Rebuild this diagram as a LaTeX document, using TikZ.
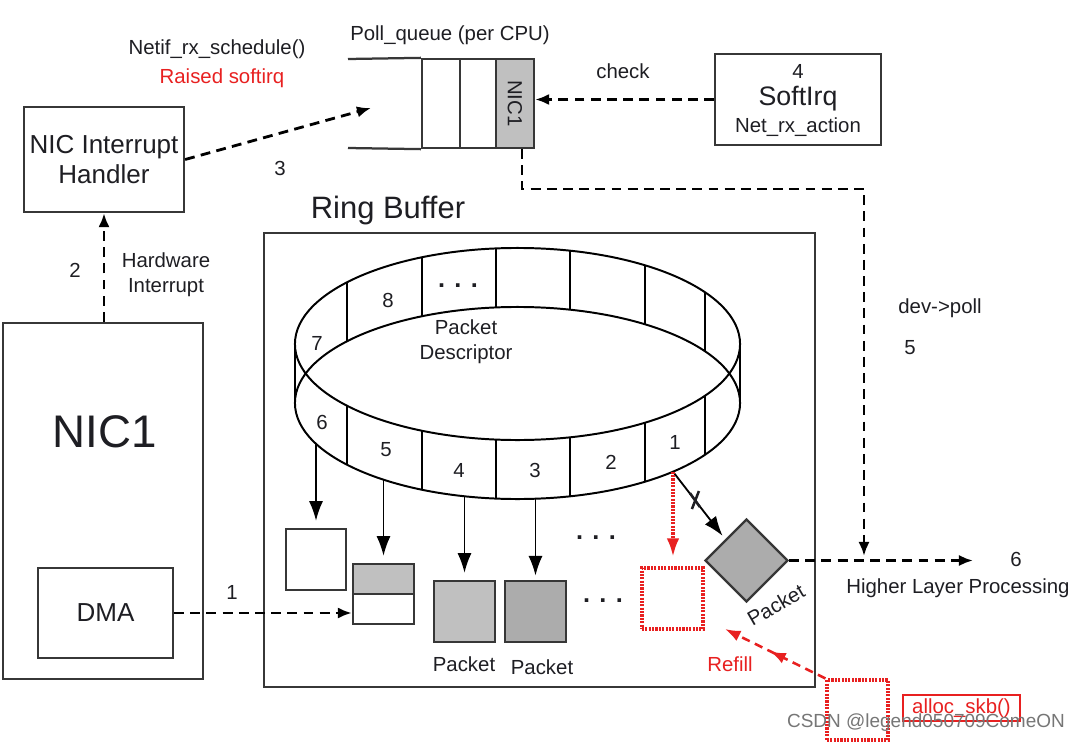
\documentclass[tikz,border=0pt]{standalone}
\usepackage{fontspec}
\setmainfont{Liberation Sans}
\usetikzlibrary{arrows.meta,shapes.geometric,decorations.markings,calc}
\definecolor{rred}{RGB}{232,32,32}
\definecolor{fg}{RGB}{192,192,192}
\definecolor{fgd}{RGB}{172,172,172}
\definecolor{lg}{RGB}{55,55,55}
\definecolor{txt}{RGB}{30,30,35}
\definecolor{wmg}{RGB}{118,118,118}
\tikzset{
  box/.style={draw=lg, line width=1.6pt, inner sep=0pt, fill=white},
  lbl/.style={inner sep=0pt, text=txt, font=\fontsize{14.5}{17.5}\selectfont},
  dasharrow/.style={line width=2pt, dash pattern=on 7pt off 4.5pt, -{Latex[length=10pt,width=8pt]}},
  solidarrow/.style={line width=1.3pt, -{Latex[length=14pt,width=10pt]}, shorten >=5pt},
  ringline/.style={line width=1.4pt},
  reddot/.style={draw=rred, line width=2.2pt, dash pattern=on 1.5pt off 0.9pt},
  dotsl/.style={inner sep=0pt, text=txt, font=\fontsize{18}{20}\selectfont\bfseries},
}
\begin{document}
\begin{tikzpicture}[x=0.025cm,y=-0.025cm]
\useasboundingbox (0,0) rectangle (1080,743);
\fill[white] (0,0) rectangle (1080,743);

% ---------- top: handler, queue, softirq
\node[box, minimum width=4cm, minimum height=2.625cm, align=center,
      text=txt, font=\fontsize{18.5}{21.3}\selectfont] (handler) at (104,159.5) {NIC Interrupt\\Handler};
\node[lbl] (netif) at (217,49) {Netif\_rx\_schedule()};
\node[lbl, text=rred] (raised) at (222,78) {Raised softirq};
\node[lbl] (pollq) at (450,35) {Poll\_queue (per CPU)};

\node[box, minimum width=.95cm, minimum height=2.225cm] (q1) at (441,103.5) {};
\node[box, minimum width=.9cm, minimum height=2.225cm] (q2) at (478,103.5) {};
\node[box, fill=fg, minimum width=.95cm, minimum height=2.225cm] (nicq) at (515,103.5) {};
\node[lbl, rotate=-90] (nicqt) at (nicq.center) {NIC1};
\coordinate (qtl) at (348,59);
\coordinate (qbl) at (348,148);
\draw[draw=lg, line width=1.6pt] (qtl) -- (q1.north west);
\draw[draw=lg, line width=1.6pt] (qbl) -- (q1.south west);

\coordinate (qin) at (371,108);
\draw[dasharrow] (handler.east) -- (qin);
\node[lbl] (n3) at (280,168) {3};

\node[box, minimum width=4.15cm, minimum height=2.275cm] (sirq) at (798,99.5) {};
\node[lbl] (sirq4) at (798,71) {4};
\node[inner sep=0pt, text=txt, font=\fontsize{19}{22}\selectfont] (sirqt) at (798,99) {SoftIrq};
\node[lbl] (sirqa) at (798,127) {Net\_rx\_action};
\draw[dasharrow] (sirq.west) -- (sirq.west -| nicq.east);
\node[lbl] (check) at (623,71) {check};

% ---------- NIC1 and DMA
\node[box, minimum width=5cm, minimum height=8.9cm] (nic) at (103,501) {};
\node[inner sep=0pt, text=txt, font=\fontsize{32.5}{36}\selectfont] (nict) at (105,432) {NIC1};
\node[box, minimum width=3.375cm, minimum height=2.25cm, text=txt, font=\fontsize{18.5}{21}\selectfont] (dma) at (105.5,613) {DMA};
\draw[dasharrow] (nic.north -| handler.south) -- (handler.south);
\node[lbl] (n2) at (75,270) {2};
\node[lbl, align=center] (hwint) at (166,274.5) {Hardware\\Interrupt};

% ---------- Ring buffer
\node[inner sep=0pt, text=txt, font=\fontsize{22}{25}\selectfont] (rbt) at (388,210) {Ring Buffer};
\node[box, minimum width=13.775cm, minimum height=11.35cm] (rb) at (539.5,460) {};

\draw[ringline] (517.5,344) ellipse [x radius=5.5625cm, y radius=2.4cm];
\draw[ringline] (517.5,403) ellipse [x radius=5.5625cm, y radius=2.4cm];
\draw[ringline] (295,344) -- (295,403);
\draw[ringline] (740,344) -- (740,403);
\foreach \xx in {347,422,496,570,645,705}{
  \pgfmathsetmacro{\hh}{96*sqrt(1-((\xx-517.5)/222.5)^2)}
  \draw[ringline] (\xx,344-\hh) -- (\xx,403-\hh);
  \draw[ringline] (\xx,344+\hh) -- (\xx,403+\hh);
}
\node[lbl] (l7) at (317,343) {7};
\node[lbl] (l8) at (388,300) {8};
\node[dotsl] (ldots) at (458,286) {. . .};
\node[lbl, align=center] (pd) at (466,341.5) {Packet\\Descriptor};
\node[lbl] (l6) at (322,422) {6};
\node[lbl] (l5) at (386,450) {5};
\node[lbl] (l4) at (459,470) {4};
\node[lbl] (l3) at (535,470) {3};
\node[lbl] (l2) at (611,462) {2};
\node[lbl] (l1) at (675,442) {1};

% points on the lower front arc
\coordinate (s6) at (316,443.7);
\coordinate (s5) at (383.5,479.6);
\coordinate (s4) at (464.5,496.2);
\coordinate (s3) at (535.5,498.7);
\coordinate (s1) at (673,471.7);

% buffers
\node[box, minimum width=1.5cm, minimum height=1.525cm] (ba) at (316,559.5) {};
\node[box, fill=fg, minimum width=1.525cm, minimum height=.75cm] (bbt) at (383.5,579) {};
\node[box, minimum width=1.525cm, minimum height=.75cm] (bbb) at (383.5,609) {};
\node[box, fill=fg, minimum width=1.525cm, minimum height=1.525cm] (bc) at (464.5,611.5) {};
\node[box, fill=fgd, minimum width=1.525cm, minimum height=1.525cm] (bd) at (535.5,611.5) {};
\node[reddot, inner sep=0pt, minimum width=1.525cm, minimum height=1.525cm] (redbox) at (672.5,598.5) {};
\node[lbl] (pk1) at (464,664) {Packet};
\node[lbl] (pk2) at (542,667) {Packet};
\node[dotsl] (dots2) at (596,538) {. . .};
\node[dotsl] (dots3) at (603,601) {. . .};

\draw[solidarrow] (s6) -- (s6 |- ba.north);
\draw[solidarrow] (s5) -- (s5 |- bbt.north);
\draw[solidarrow] (s4) -- (s4 |- bc.north);
\draw[solidarrow, shorten >=3pt] (s3) -- (s3 |- bd.north);

\draw[dasharrow] (dma.east) -- (dma.east -| bbb.west);
\node[lbl] (n1) at (232,592) {1};

% packet diamond
\node[draw=lg, line width=1.6pt, fill=fgd, diamond, inner sep=0pt,
      minimum width=2.075cm, minimum height=2.075cm] (pkt) at (746.5,560.5) {};
\node[lbl, rotate=30] (pkt3) at (776,605) {Packet};
\draw[solidarrow, shorten >=3pt] (s1) -- (pkt.north west);
\coordinate (xm) at ($(s1)!0.42!(pkt.north west)$);
\draw[line width=1.8pt, draw=txt] ([shift={(-5,-7)}]xm) -- ([shift={(5,7)}]xm);
\draw[line width=1.8pt, draw=txt] ([shift={(4,-9)}]xm) -- ([shift={(-3,9)}]xm);
\draw[reddot, -{Latex[length=13pt,width=9pt]}, shorten >=7pt] (s1) -- (s1 |- redbox.north);

% dev->poll and higher layer
\coordinate (bend) at (864,189);
\coordinate (hlj) at (864,556);
\draw[dasharrow] ([xshift=0.175cm]nicq.south) |- (bend) -- (hlj);
\node[lbl] (devpoll) at (940,308) {dev->poll};
\node[lbl] (n5) at (910,348) {5};
\coordinate (hlend) at (973,560.5);
\draw[dasharrow] (pkt.east) -- (hlend);
\node[lbl] (n6) at (1016,559) {6};
\node[lbl] (hlp) at (958,588) {Higher Layer Processing};

% refill / alloc_skb
\node[reddot, inner sep=0pt, minimum width=1.525cm, minimum height=1.5cm] (alloc) at (857.5,710) {};
\node[lbl, text=rred, draw=rred, line width=1.3pt, minimum width=2.925cm, minimum height=.65cm] (allocl) at (961.5,708) {alloc\_skb()};
\coordinate (rfend) at (725,629);
\draw[draw=rred, line width=1.8pt, dash pattern=on 6pt off 4pt, -{Latex[length=11pt,width=8pt]},
      postaction={decorate},
      decoration={markings, mark=at position 0.55 with {\arrow{Latex[length=11pt,width=8pt]}}}]
      (alloc.north west) -- (rfend);
\node[lbl, text=rred] (refill) at (730,664) {Refill};

% watermark
\node[inner sep=0pt, text=wmg, font=\fontsize{13.5}{16}\selectfont] (wm) at (926,723) {CSDN @legend050709ComeON};
\end{tikzpicture}
\end{document}
